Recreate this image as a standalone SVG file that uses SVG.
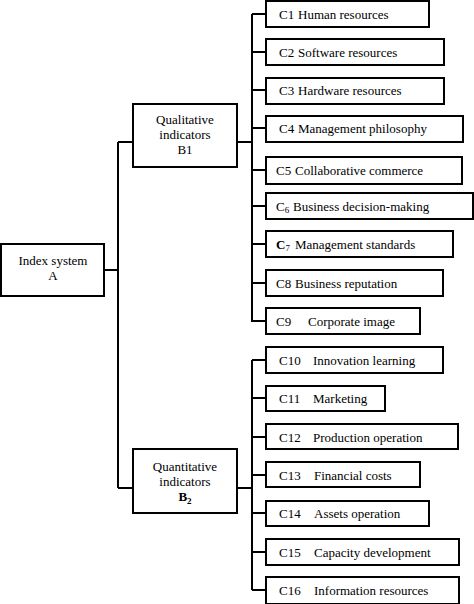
<svg xmlns="http://www.w3.org/2000/svg" width="474" height="604" viewBox="0 0 474 604">
<style>
.box{fill:#fff;stroke:#000;stroke-width:2}
.ln{fill:none;stroke:#000;stroke-width:2}
text{font-family:"Liberation Serif","Times New Roman",serif;font-size:13px;fill:#000}
.c{text-anchor:middle}
</style>
<rect width="474" height="604" fill="#fff"/>
<g id="connectors" class="ln">
<path d="M104 270H118M118 142V488M118 142H133M118 488H133"/>
<path d="M237 142H252M252 14V322M252 14H266M252 52H266M252 90H266M252 128H266M252 170H266M252 206H266M252 244H266M252 283H266M252 321H266"/>
<path d="M237 488H252M252 360V590M252 360H266M252 398H266M252 437H266M252 475H266M252 513H266M252 552H266M252 590H266"/>
</g>
<g id="A"><rect class="box" x="1" y="244" width="103" height="52"/><text class="c" x="53" y="265">Index system</text><text class="c" x="53" y="280">A</text></g>
<g id="B1"><rect class="box" x="133" y="104" width="104" height="63"/><text class="c" x="185" y="124">Qualitative</text><text class="c" x="185" y="139">indicators</text><text class="c" x="185" y="154">B1</text></g>
<g id="B2"><rect class="box" x="133" y="449" width="104" height="64"/><text class="c" x="185" y="471">Quantitative</text><text class="c" x="185" y="486">indicators</text><text class="c" x="185" y="501" font-weight="bold">B<tspan font-size="9" dy="3">2</tspan></text></g>
<g id="C1"><rect class="box" x="266" y="1" width="163" height="26"/><text x="279" y="19">C1<tspan x="298">Human resources</tspan></text></g>
<g id="C2"><rect class="box" x="266" y="39" width="178" height="26"/><text x="279" y="57">C2<tspan x="298">Software resources</tspan></text></g>
<g id="C3"><rect class="box" x="266" y="78" width="178" height="26"/><text x="279" y="95">C3<tspan x="298">Hardware resources</tspan></text></g>
<g id="C4"><rect class="box" x="266" y="116" width="197" height="26"/><text x="279" y="133">C4<tspan x="298">Management philosophy</tspan></text></g>
<g id="C5"><rect class="box" x="266" y="157" width="196" height="27"/><text x="276" y="175">C5<tspan x="295">Collaborative commerce</tspan></text></g>
<g id="C6"><rect class="box" x="266" y="193" width="207" height="26"/><text x="276" y="211">C<tspan font-size="9" dy="2">6</tspan><tspan x="293" dy="-2">Business decision-making</tspan></text></g>
<g id="C7"><rect class="box" x="266" y="231" width="187" height="26"/><text x="276" y="249"><tspan font-weight="bold">C</tspan><tspan font-size="9" dy="2">7</tspan><tspan x="295" dy="-2">Management standards</tspan></text></g>
<g id="C8"><rect class="box" x="266" y="270" width="177" height="26"/><text x="276" y="288">C8<tspan x="295">Business reputation</tspan></text></g>
<g id="C9"><rect class="box" x="266" y="308" width="154" height="26"/><text x="276" y="326">C9<tspan x="308">Corporate image</tspan></text></g>
<g id="C10"><rect class="box" x="266" y="347" width="177" height="26"/><text x="279" y="365">C10<tspan x="313">Innovation learning</tspan></text></g>
<g id="C11"><rect class="box" x="266" y="386" width="119" height="25"/><text x="279" y="403">C11<tspan x="313">Marketing</tspan></text></g>
<g id="C12"><rect class="box" x="266" y="424" width="192" height="25"/><text x="279" y="442">C12<tspan x="313">Production operation</tspan></text></g>
<g id="C13"><rect class="box" x="266" y="462" width="154" height="25"/><text x="279" y="480">C13<tspan x="314">Financial costs</tspan></text></g>
<g id="C14"><rect class="box" x="266" y="501" width="163" height="25"/><text x="279" y="518">C14<tspan x="314">Assets operation</tspan></text></g>
<g id="C15"><rect class="box" x="266" y="539" width="193" height="26"/><text x="279" y="557">C15<tspan x="314">Capacity development</tspan></text></g>
<g id="C16"><rect class="box" x="266" y="577" width="193" height="27"/><text x="279" y="595">C16<tspan x="314">Information resources</tspan></text></g>
</svg>
